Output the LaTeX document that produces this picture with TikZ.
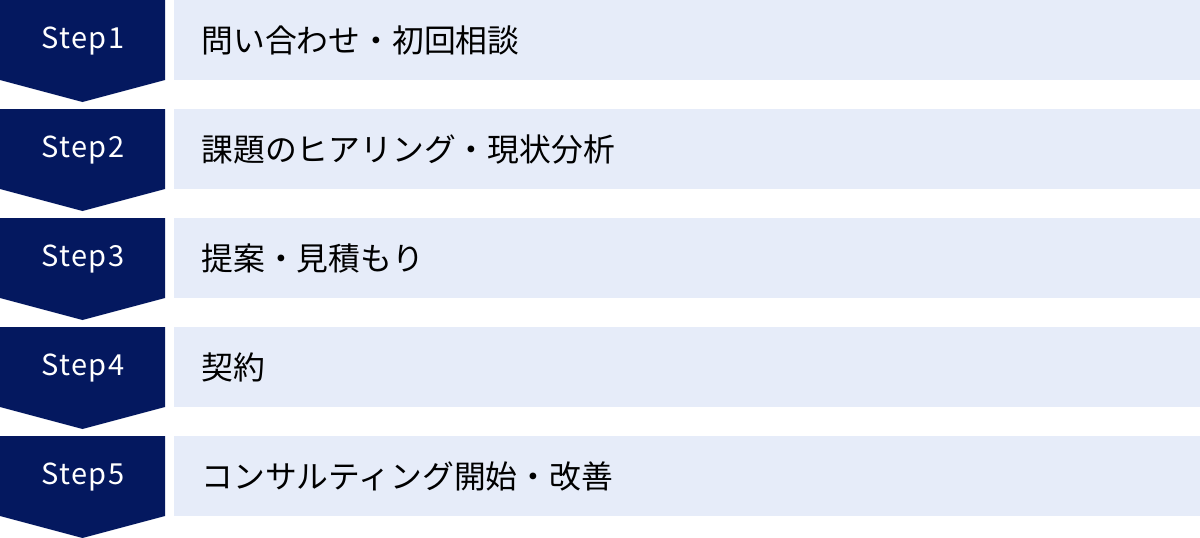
\documentclass[tikz,border=0pt]{standalone}
\usepackage{fontspec}
\setmainfont{Noto Sans CJK JP}
\newfontfamily\jpfont{Noto Sans CJK JP}
\newfontfamily\stepfont[LetterSpace=5]{Noto Sans CJK JP}
\usetikzlibrary{calc}

\definecolor{navy}{HTML}{04185F}
\definecolor{barblue}{HTML}{E6ECF9}

\tikzset{
  badge/.style={fill=navy,draw=none},
  bar/.style={fill=barblue,draw=none},
  steplabel/.style={text=white,font=\stepfont\fontsize{29}{33}\selectfont,anchor=center},
  steptext/.style={text=black,font=\jpfont\fontsize{31.8}{36}\selectfont,anchor=west}
}

\begin{document}
\begin{tikzpicture}[x=1pt,y=1pt]
\useasboundingbox (0,0) rectangle (1200,-538);

% Step 1
\begin{scope}
\fill[badge] (0,0) -- (165,0) -- (165,-80) -- (82.5,-102) -- (0,-80) -- cycle;
\fill[bar] (174,0) rectangle (1200,-80);
\node[steplabel] (s1) at (83,-41) {Step1};
\node[steptext] (t1) at (198,-40) {問い合わせ・初回相談};
\end{scope}

% Step 2
\begin{scope}[yshift=-109pt]
\fill[badge] (0,0) -- (165,0) -- (165,-80) -- (82.5,-102) -- (0,-80) -- cycle;
\fill[bar] (174,0) rectangle (1200,-80);
\node[steplabel] (s2) at (83,-41) {Step2};
\node[steptext] (t2) at (198,-40) {課題のヒアリング・現状分析};
\end{scope}

% Step 3
\begin{scope}[yshift=-218pt]
\fill[badge] (0,0) -- (165,0) -- (165,-80) -- (82.5,-102) -- (0,-80) -- cycle;
\fill[bar] (174,0) rectangle (1200,-80);
\node[steplabel] (s3) at (83,-41) {Step3};
\node[steptext] (t3) at (198,-40) {提案・見積もり};
\end{scope}

% Step 4
\begin{scope}[yshift=-327pt]
\fill[badge] (0,0) -- (165,0) -- (165,-80) -- (82.5,-102) -- (0,-80) -- cycle;
\fill[bar] (174,0) rectangle (1200,-80);
\node[steplabel] (s4) at (83,-41) {Step4};
\node[steptext] (t4) at (198,-40) {契約};
\end{scope}

% Step 5
\begin{scope}[yshift=-436pt]
\fill[badge] (0,0) -- (165,0) -- (165,-80) -- (82.5,-102) -- (0,-80) -- cycle;
\fill[bar] (174,0) rectangle (1200,-80);
\node[steplabel] (s5) at (83,-41) {Step5};
\node[steptext] (t5) at (198,-40) {コンサルティング開始・改善};
\end{scope}

\end{tikzpicture}
\end{document}
